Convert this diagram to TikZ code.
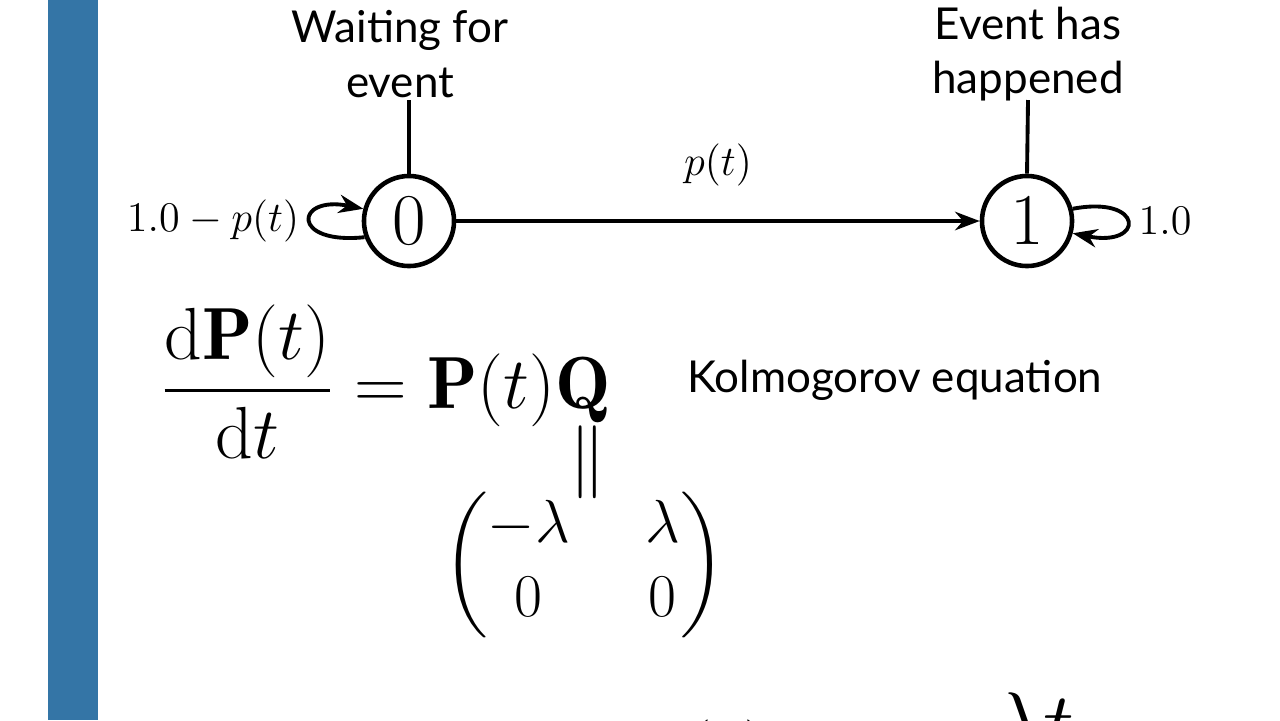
\documentclass[tikz,border=0pt]{standalone}
\usepackage{amsmath,fontspec}
\setsansfont{Lato}
\usetikzlibrary{arrows.meta}
\begin{document}
\begin{tikzpicture}[x=0.01cm,y=-0.01cm,
  st/.style={circle,draw,line width=1.3pt,minimum size=0.9cm,inner sep=0pt,font=\fontsize{20}{22}\selectfont},
  lab/.style={font=\sffamily\fontsize{12.5}{15.5}\selectfont,align=center},
  ml/.style={font=\fontsize{12}{14}\selectfont},
  ar/.style={line width=1.1pt,-{Stealth[length=7pt]}}]
\useasboundingbox (0,0) rectangle (1280,720);
\fill[fill={rgb,255:red,52;green,117;blue,166}] (48,0) rectangle (98,720);
\node[st] (s0) at (409,221) {$0$};
\node[st] (s1) at (1027,221) {$1$};
\node[lab] (l0) at (400,54) {Waiting for\\event};
\node[lab] (l1) at (1028,54) {Event has\\happened};
\coordinate (c0) at (409,100);
\coordinate (c1) at (1028,100);
\draw[line width=1.1pt] (s0.north) -- (c0);
\draw[line width=1.1pt] (s1.north) -- (c1);
\draw[ar] (s0) -- node[above=6pt,ml]{$p(t)$} (s1);
\draw[ar] (s0.200) .. controls (290,245) and (295,195) .. (s0.165);
\draw[ar] (s1.15) .. controls (1145,195) and (1145,248) .. (s1.-15);
\node[ml] (pl0) at (213,221) {$1.0-p(t)$};
\node[ml] (pl1) at (1165,221) {$1.0$};
\node[font=\fontsize{21}{24}\selectfont,anchor=west] (eq) at (148,382) {$\dfrac{\mathrm{d}\mathbf{P}(t)}{\mathrm{d}t} = \mathbf{P}(t)\mathbf{Q}$};
\node[lab,anchor=west] (kol) at (675,380) {Kolmogorov equation};
\node[font=\fontsize{20}{22}\selectfont] (eqs) at (588,462) {$\|$};
\node[font=\fontsize{19}{21}\selectfont] (mat) at (584,565) {$\begin{pmatrix}-\lambda & \ \ \lambda\\ 0 & \ \ 0\end{pmatrix}$};
\node[font=\fontsize{44}{48}\selectfont,anchor=base west] (bot) at (572,785) {$P_0(t) = e^{-\lambda t}$};
\end{tikzpicture}
\end{document}
